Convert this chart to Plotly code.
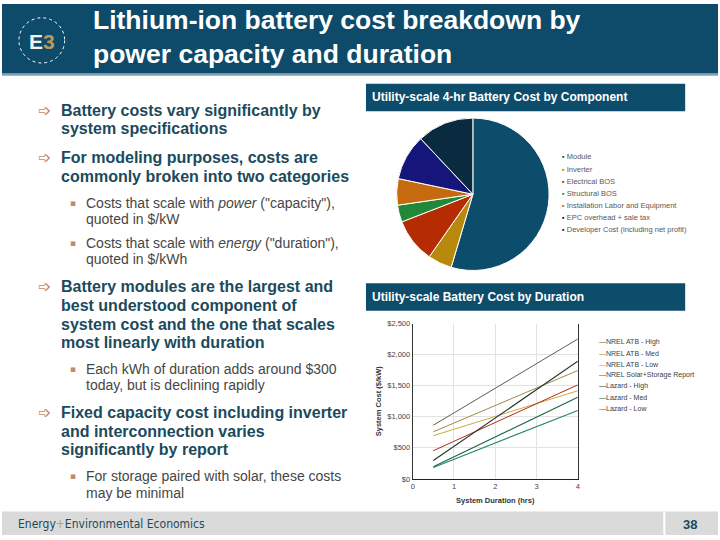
import plotly.graph_objects as go

# ---------------- data ----------------
pie_labels = ["Module", "Inverter", "Electrical BOS", "Structural BOS",
              "Installation Labor and Equipment", "EPC overhead + sale tax",
              "Developer Cost (including net profit)"]
pie_values = [54.6, 5.1, 9.4, 3.6, 5.6, 9.7, 12.0]
pie_colors = ["#0c4d6c", "#b8890c", "#b52b02", "#21883a", "#c66a10", "#15157a", "#0a2b3f"]

durations = [0.5, 4]
line_names = ["NREL ATB - High", "NREL ATB - Med", "NREL ATB - Low",
              "NREL Solar+Storage Report", "Lazard - High", "Lazard - Med", "Lazard - Low"]
line_values = [
    [865, 2251],
    [759, 1745],
    [696, 1419],
    [454, 1514],
    [296, 1893],
    [198, 1313],
    [185, 1103],
]
line_colors = ["#5e5e48", "#a08a48", "#c9ad3c", "#b32a1a", "#1c3528", "#17683f", "#24866c"]
line_widths = [1, 1, 1, 1, 1.1, 1.1, 1.1]

y_ticks = [0, 500, 1000, 1500, 2000, 2500]
y_ticktext = ["$" + format(v, ",") for v in y_ticks]
x_ticks = [0, 1, 2, 3, 4]

title_lines = ["Lithium-ion battery cost breakdown by", "power capacity and duration"]
box_titles = ["Utility-scale 4-hr Battery Cost by Component", "Utility-scale Battery Cost by Duration"]

W, H = 720, 540
def px(x):
    return x / W
def py(y):
    return 1 - y / H

fig = go.Figure()

# pie
fig.add_trace(go.Pie(
    labels=pie_labels, values=pie_values, sort=False, direction="clockwise", rotation=0,
    marker=dict(colors=pie_colors, line=dict(color="white", width=1)),
    textinfo="none", hoverinfo="label+percent", showlegend=False,
    domain=dict(x=[px(396), px(551)], y=[py(271), py(116)]),
))

# lines
for name, vals, col, lw in zip(line_names, line_values, line_colors, line_widths):
    fig.add_trace(go.Scatter(
        x=durations, y=vals, mode="lines", name=name,
        line=dict(color=col, width=lw), showlegend=False,
        xaxis="x", yaxis="y",
    ))

shapes = []
annotations = []

# header bar
shapes.append(dict(type="rect", xref="paper", yref="paper", x0=0, x1=1, y0=py(71), y1=1,
                   fillcolor="#0e4a69", line=dict(width=0), layer="below"))
shapes.append(dict(type="rect", xref="paper", yref="paper", x0=0, x1=1, y0=py(73), y1=py(70.5),
                   fillcolor="#7fa3b8", line=dict(width=0), layer="below"))
# logo circle
shapes.append(dict(type="circle", xref="paper", yref="paper", x0=px(17), x1=px(63), y0=py(60), y1=py(14),
                   line=dict(color="white", width=1, dash="dot"), layer="above"))
annotations.append(dict(x=px(40), y=py(38), xref="paper", yref="paper",
                        text="<b>E<span style='color:#b89a60'>3</span></b>",
                        showarrow=False, xanchor="center", yanchor="middle",
                        font=dict(family="Liberation Sans Narrow, Liberation Sans, Arial", size=21, color="#f2f2f2")))

annotations.append(dict(x=px(89), y=py(33.5), xref="paper", yref="paper",
                        text="<br>".join("<b>" + t + "</b>" for t in title_lines),
                        showarrow=False, xanchor="left", yanchor="middle", align="left",
                        font=dict(family="Liberation Sans, Arial", size=26.5, color="white")))

# section title boxes
for t, (y0, y1) in zip(box_titles, [(81, 109), (284, 312)]):
    shapes.append(dict(type="rect", xref="paper", yref="paper", x0=px(366), x1=px(687), y0=py(y1), y1=py(y0),
                       fillcolor="#0d4c6b", line=dict(width=0), layer="below"))
    annotations.append(dict(x=px(370), y=py((y0 + y1) / 2), xref="paper", yref="paper", text="<b>" + t + "</b>",
                            showarrow=False, xanchor="left", yanchor="middle",
                            font=dict(family="Liberation Sans, Arial", size=12, color="white")))

# left text
main_color = "#1b4a5d"
sub_color = "#464646"
arrow_color = "#c28a6e"
bullets = [
    ("main", ["Battery costs vary significantly by", "system specifications"], 108),
    ("main", ["For modeling purposes, costs are", "commonly broken into two categories"], 156),
    ("sub", ["Costs that scale with <i>power</i> (\"capacity\"),", "quoted in $/kW"], 202),
    ("sub", ["Costs that scale with <i>energy</i> (\"duration\"),", "quoted in $/kWh"], 243),
    ("main", ["Battery modules are the largest and", "best understood component of",
              "system cost and the one that scales", "most linearly with duration"], 287.5),
    ("sub", ["Each kWh of duration adds around $300", "today, but is declining rapidly"], 371),
    ("main", ["Fixed capacity cost including inverter", "and interconnection varies",
              "significantly by report"], 415.5),
    ("sub", ["For storage paired with solar, these costs", "may be minimal"], 480.5),
]
for kind, lines, y0 in bullets:
    if kind == "main":
        annotations.append(dict(x=px(43), y=py(y0), xref="paper", yref="paper", text="➩",
                                showarrow=False, xanchor="center", yanchor="middle",
                                font=dict(family="DejaVu Sans", size=16, color=arrow_color)))
        for j, ln in enumerate(lines):
            annotations.append(dict(x=px(57), y=py(y0 + 19 * j), xref="paper", yref="paper",
                                    text="<b>" + ln + "</b>", showarrow=False, xanchor="left", yanchor="middle",
                                    font=dict(family="Liberation Sans, Arial", size=16, color=main_color)))
    else:
        annotations.append(dict(x=px(71), y=py(y0), xref="paper", yref="paper", text="▪",
                                showarrow=False, xanchor="center", yanchor="middle",
                                font=dict(family="DejaVu Sans", size=9, color=arrow_color)))
        for j, ln in enumerate(lines):
            annotations.append(dict(x=px(82), y=py(y0 + 16.5 * j), xref="paper", yref="paper",
                                    text=ln, showarrow=False, xanchor="left", yanchor="middle",
                                    font=dict(family="Liberation Sans, Arial", size=14, color=sub_color)))

# pie legend
for i, (lab, col) in enumerate(zip(pie_labels, pie_colors)):
    annotations.append(dict(x=px(561), y=py(155.5 + 12.3 * i), xref="paper", yref="paper",
                            text="<span style='color:%s'>▪</span> %s" % (col, lab),
                            showarrow=False, xanchor="left", yanchor="middle",
                            font=dict(family="Liberation Sans, Arial", size=7.5, color="#595959")))

# line legend
for i, (nm, col) in enumerate(zip(line_names, line_colors)):
    annotations.append(dict(x=px(598), y=py(344 + 11.2 * i), xref="paper", yref="paper",
                            text="<span style='color:%s'>—</span>%s" % (col, nm),
                            showarrow=False, xanchor="left", yanchor="middle",
                            font=dict(family="Liberation Sans, Arial", size=7, color="#404040")))

# footer
shapes.append(dict(type="rect", xref="paper", yref="paper", x0=0, x1=1, y0=0, y1=py(516),
                   fillcolor="#dadada", line=dict(width=0), layer="below"))
shapes.append(dict(type="line", xref="paper", yref="paper", x0=px(666), x1=px(666), y0=0, y1=py(516),
                   line=dict(color="white", width=2), layer="below"))
annotations.append(dict(x=px(14), y=py(529), xref="paper", yref="paper",
                        text="Energy<span style='color:#c9a44a'>+</span>Environmental Economics",
                        showarrow=False, xanchor="left", yanchor="middle",
                        font=dict(family="Liberation Sans Narrow, DejaVu Sans Condensed, Arial Narrow, sans-serif",
                                  size=12, color="#1b4a5d")))
annotations.append(dict(x=px(692), y=py(529), xref="paper", yref="paper", text="<b>38</b>",
                        showarrow=False, xanchor="center", yanchor="middle",
                        font=dict(family="Liberation Sans Narrow, Liberation Sans, Arial", size=13, color="#1b4a5d")))

fig.update_layout(
    width=W, height=H, margin=dict(l=0, r=0, t=0, b=0),
    paper_bgcolor="white", plot_bgcolor="white",
    showlegend=False,
    shapes=shapes, annotations=annotations,
    xaxis=dict(domain=[px(413), px(579)], range=[0, 4], tickvals=x_ticks,
               showgrid=True, gridcolor="#e2e2e2", gridwidth=1, zeroline=False,
               showline=True, linecolor="#222", linewidth=1,
               ticks="", tickfont=dict(family="Liberation Sans, Arial", size=7.5, color="#444"),
               title=dict(text="<b>System Duration (hrs)</b>", standoff=7,
                          font=dict(family="Liberation Sans, Arial", size=7.5, color="#333")),
               anchor="y", fixedrange=True),
    yaxis=dict(domain=[py(483), py(325)], range=[0, 2500], tickvals=y_ticks, ticktext=y_ticktext,
               showgrid=True, gridcolor="#e2e2e2", gridwidth=1, zeroline=False,
               showline=True, linecolor="#333", linewidth=1, mirror=True,
               ticks="", tickfont=dict(family="Liberation Sans, Arial", size=7.5, color="#444"),
               title=dict(text="<b>System Cost ($/kW)</b>", standoff=4,
                          font=dict(family="Liberation Sans, Arial", size=7.5, color="#333")),
               anchor="x", fixedrange=True),
)

fig.write_html("out.html")
